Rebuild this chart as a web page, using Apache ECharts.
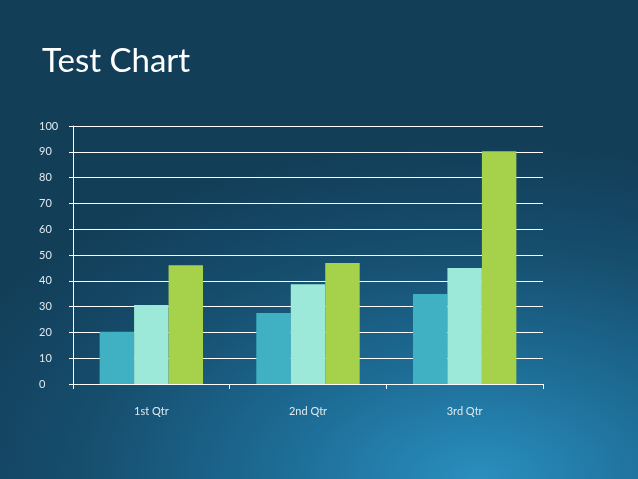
<!DOCTYPE html>
<html><head><meta charset="utf-8">
<script src="https://cdn.jsdelivr.net/npm/echarts@6/dist/echarts.min.js"></script>
<style>
html,body{margin:0;padding:0;}
#c{width:638px;height:479px;background:radial-gradient(ellipse 90% 70% at 75% 100%, #2a8fbf 0%, #1d6c95 35%, #164d6d 70%, #123e58 100%);}
</style></head><body>
<div id="c"></div>
<script>
const categories = ['1st Qtr','2nd Qtr','3rd Qtr'];
const series1 = [20.3, 27.5, 34.9];
const series2 = [30.6, 38.7, 45];
const series3 = [46, 46.9, 90.2];
const colors = ['#3fb1c3','#9de9d9','#a5d14b'];
const chart = echarts.init(document.getElementById('c'));
const mk = (d,i)=>({type:'bar',data:d,barGap:'0%',barCategoryGap:'34%',itemStyle:{color:colors[i]}});
chart.setOption({
  animation:false,
  backgroundColor:'transparent',
  title:{text:'Test Chart',left:37,top:40,textStyle:{color:'#ffffff',fontFamily:'Lato',fontSize:33,fontWeight:'normal'}},
  grid:{left:73,right:95,top:126,bottom:95},
  xAxis:{type:'category',data:categories,
    axisLine:{lineStyle:{color:'#ffffff'}},
    axisTick:{show:true,length:5,lineStyle:{color:'#ffffff'}},
    axisLabel:{color:'#dfe9ef',fontFamily:'Lato',fontSize:11,margin:22}},
  yAxis:{type:'value',min:0,max:100,interval:10,
    axisLine:{show:true,lineStyle:{color:'#ffffff'}},
    axisTick:{show:true,length:4,lineStyle:{color:'#ffffff'}},
    splitLine:{lineStyle:{color:'#ffffff'}},
    axisLabel:{color:'#dfe9ef',fontFamily:'Lato',fontSize:11,margin:34,align:'left'}},
  series:[mk(series1,0),mk(series2,1),mk(series3,2)]
});
</script></body></html>
